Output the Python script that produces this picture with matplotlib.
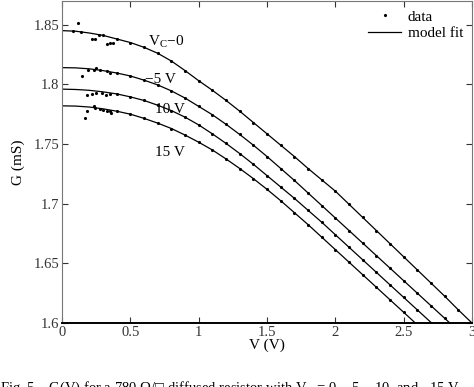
import matplotlib.pyplot as plt

plt.rcParams["font.family"] = "Liberation Serif"
plt.rcParams["mathtext.fontset"] = "custom"
plt.rcParams["mathtext.rm"] = "Liberation Serif"

# model fit curves at 0.1 V steps
v_fit = [0.0, 0.1, 0.2, 0.3, 0.4, 0.5, 0.6, 0.7, 0.8, 0.9, 1.0, 1.1, 1.2, 1.3, 1.4, 1.5,
         1.6, 1.7, 1.8, 1.9, 2.0, 2.1, 2.2, 2.3, 2.4, 2.5, 2.6, 2.7, 2.8, 2.9, 3.0]
g_vc0 = [1.845, 1.8445, 1.843, 1.841, 1.838, 1.835, 1.831, 1.826, 1.8195, 1.8115, 1.803,
         1.795, 1.7865, 1.7775, 1.768, 1.7585, 1.749, 1.7395, 1.7295, 1.72, 1.7105,
         1.6995, 1.6885, 1.6775, 1.6665, 1.6555, 1.6445, 1.6335, 1.6225, 1.611, 1.600]
g_vc5 = [1.814, 1.8138, 1.813, 1.8115, 1.8095, 1.807, 1.8035, 1.7995, 1.7945, 1.7885, 1.7815,
         1.7745, 1.7665, 1.758, 1.749, 1.7395, 1.7295, 1.7195, 1.709, 1.6985, 1.688,
         1.6775, 1.667, 1.6565, 1.646, 1.6355, 1.625, 1.6145, 1.604, 1.5935, 1.583]
g_vc10 = [1.796, 1.7957, 1.795, 1.7937, 1.792, 1.7895, 1.7865, 1.7825, 1.778, 1.7725, 1.766,
          1.7585, 1.7505, 1.742, 1.733, 1.7235, 1.714, 1.7045, 1.6945, 1.6845, 1.674,
          1.6635, 1.653, 1.6425, 1.632, 1.6215, 1.611, 1.6005, 1.59, 1.5795, 1.569]
g_vc15 = [1.782, 1.7818, 1.781, 1.7795, 1.7775, 1.775, 1.7715, 1.7675, 1.763, 1.7575, 1.7515,
          1.745, 1.7375, 1.7295, 1.721, 1.712, 1.7025, 1.6925, 1.6825, 1.672, 1.6615,
          1.651, 1.6405, 1.63, 1.6195, 1.609, 1.5985, 1.588, 1.5775, 1.567, 1.5565]

# scattered low-bias measurements
v_low0 = [0.08, 0.12, 0.14, 0.22, 0.24, 0.27, 0.30, 0.33, 0.35, 0.37]
g_low0 = [1.845, 1.851, 1.8435, 1.838, 1.838, 1.841, 1.8416, 1.8338, 1.835, 1.835]
v_low5 = [0.144, 0.19, 0.23, 0.25, 0.28, 0.33, 0.35]
g_low5 = [1.8066, 1.812, 1.812, 1.8137, 1.812, 1.811, 1.8095]
v_low10 = [0.18, 0.22, 0.25, 0.29, 0.32, 0.35]
g_low10 = [1.7907, 1.7916, 1.7927, 1.7925, 1.7915, 1.792]
v_low15 = [0.17, 0.18, 0.23, 0.24, 0.28, 0.30, 0.33, 0.35, 0.36]
g_low15 = [1.7722, 1.7773, 1.782, 1.7805, 1.779, 1.7785, 1.778, 1.7773, 1.776]

curves = [g_vc0, g_vc5, g_vc10, g_vc15]
lows = [(v_low0, g_low0), (v_low5, g_low5), (v_low10, g_low10), (v_low15, g_low15)]
labels = ["V$_{\\rm C}$\u22120", "\u22125 V", "10 V", "15 V"]
label_pos = [(0.63, 1.836), (0.61, 1.804), (0.68, 1.779), (0.68, 1.743)]

fig = plt.figure(figsize=(4.74, 3.87), dpi=100)
ax = fig.add_axes([0.131, 0.165, 0.865, 0.833])

for i, g in enumerate(curves):
    ax.plot(v_fit, g, color="black", lw=0.9,
            label="model fit" if i == 0 else None)
    # data points along the curve from 0.4 V on
    ax.plot(v_fit[4:], g[4:], ".", color="black", ms=2.5,
            label="data" if i == 0 else None)
    ax.plot(lows[i][0], lows[i][1], ".", color="black", ms=2.5)
    ax.text(label_pos[i][0], label_pos[i][1], labels[i], fontsize=11,
            va="center", ha="left")

ax.set_xlim(0, 3)
ax.set_ylim(1.6, 1.87)
ax.set_xticks([0, 0.5, 1, 1.5, 2, 2.5, 3])
ax.set_xticklabels(["0", "0.5", "1", "1.5", "2", "2.5", "3"])
ax.set_yticks([1.6, 1.65, 1.7, 1.75, 1.8, 1.85])
ax.set_yticklabels(["1.6", "1.65", "1.7", "1.75", "1.8", "1.85"])
ax.tick_params(direction="in", top=True, right=True, labelsize=10.5, length=4,
               pad=2, colors="#333333")
for s in ax.spines.values():
    s.set_color("#777777")
ax.spines["bottom"].set_color("black")
ax.spines["bottom"].set_linewidth(1.4)
ax.set_xlabel("V (V)", fontsize=11, labelpad=0)
ax.set_ylabel("G (mS)", fontsize=11, labelpad=6)

handles, labs = ax.get_legend_handles_labels()
ax.legend([handles[1], handles[0]], ["data", "model fit"], loc="upper right",
          frameon=False, fontsize=11, handlelength=2.2, borderaxespad=0.2,
          handletextpad=0.4, labelspacing=0.2)

# caption runs off the bottom edge, as in the scanned original
fig.text(0.0, 0.018, "Fig. 5.   G(V) for a 780 \u03a9/\u25a1 diffused resistor with V$_{\\rm C}$ = 0, \u22125, \u221210, and \u221215 V.",
         fontsize=10.5, va="top", ha="left")

fig.savefig("out.png", dpi=100)
